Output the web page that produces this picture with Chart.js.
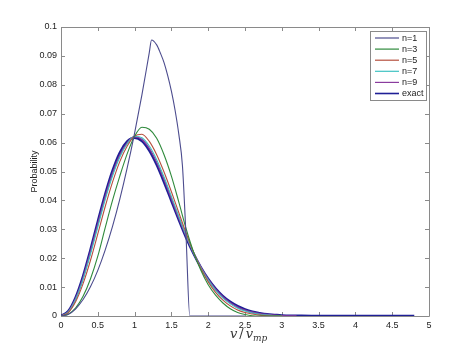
<!DOCTYPE html>
<html>
<head>
<meta charset="utf-8">
<script src="https://cdn.jsdelivr.net/npm/chart.js@4.4.1/dist/chart.umd.min.js"></script>
<style>
html,body{margin:0;padding:0;background:#fff;}
#wrap{width:474px;height:355px;position:relative;}
</style>
</head>
<body>
<div id="wrap"><canvas id="c" width="474" height="355"></canvas></div>
<script>
// ---- data ----
const xGrid = [0,0.1,0.2,0.3,0.4,0.5,0.6,0.7,0.8,0.9,1.0,1.1,1.2,1.3,1.4,1.5,1.6,1.7,1.8,1.9,2.0,2.1,2.2,2.3,2.4,2.5,2.6,2.7,2.8,2.9,3.0];

const n1X = [0,0.1,0.2,0.3,0.4,0.5,0.6,0.7,0.8,0.9,1.0,1.1,1.2,1.23,1.3,1.35,1.4,1.45,1.5,1.55,1.6,1.65,1.7,1.75,2.0,2.5];
const n1Y = [0,0.0006,0.0025,0.0057,0.0101,0.0158,0.0228,0.0310,0.0405,0.0513,0.0633,0.0766,0.0912,0.0955,0.0938,0.0910,0.0877,0.0832,0.0778,0.0712,0.0630,0.0520,0.0270,0,0,0];

const n3Y = [0,0.0006,0.0028,0.0068,0.0128,0.0207,0.0305,0.0400,0.0485,0.0562,0.0622,0.0653,0.0646,0.0615,0.0558,0.0484,0.0395,0.0302,0.0222,0.0158,0.0108,0.0072,0.0045,0.0025,0.0012,0.0005,0.0001,0,0,0,0];
const n5Y = [0,0.0012,0.0050,0.0112,0.0192,0.0284,0.0378,0.0463,0.0535,0.0588,0.0623,0.0629,0.0604,0.0558,0.0498,0.0430,0.0358,0.0287,0.0221,0.0164,0.0118,0.0082,0.0055,0.0035,0.0021,0.0012,0.0007,0.0003,0.0001,0,0];
const n7Y = [0,0.0014,0.0058,0.0127,0.0213,0.0308,0.0402,0.0484,0.0550,0.0596,0.0622,0.0617,0.0588,0.0541,0.0481,0.0414,0.0345,0.0279,0.0219,0.0167,0.0124,0.0089,0.0062,0.0042,0.0027,0.0017,0.0010,0.0006,0.0003,0.0001,0];
const n9Y = [0,0.0015,0.0061,0.0132,0.0222,0.0318,0.0412,0.0493,0.0557,0.0599,0.0620,0.0611,0.0580,0.0532,0.0472,0.0406,0.0339,0.0276,0.0219,0.0169,0.0127,0.0093,0.0066,0.0046,0.0031,0.0020,0.0013,0.0008,0.0005,0.0003,0.0001];
const exactY = [0,0.0017,0.0065,0.0138,0.0229,0.0327,0.0421,0.0503,0.0566,0.0604,0.0617,0.0605,0.0572,0.0523,0.0463,0.0398,0.0333,0.0271,0.0216,0.0168,0.0128,0.0095,0.0069,0.0049,0.0034,0.0023,0.0015,0.0010,0.0006,0.0004,0.0002];
const exactTailX = [3.2,3.5,4.0,4.5,4.8];
const exactTailY = [0.0001,0,0,0,0];
const n9TailX = [3.2];
const n9TailY = [0];

const seriesNames = ['n=1','n=3','n=5','n=7','n=9','exact'];
const seriesColors = ['#4c4c8e','#2f8a3c','#b5503e','#3fc2c2','#8a3c9e','#1f1f96'];
const seriesWidths = [1.1,1.1,1.1,1.1,1.4,2.4];

const xTicks = [0,0.5,1,1.5,2,2.5,3,3.5,4,4.5,5];
const yTicks = [0,0.01,0.02,0.03,0.04,0.05,0.06,0.07,0.08,0.09,0.1];

function pts(xs, ys){ return xs.map((x,i)=>({x:x, y:ys[i]})); }

const seriesData = [
  pts(n1X, n1Y),
  pts(xGrid, n3Y),
  pts(xGrid, n5Y),
  pts(xGrid, n7Y),
  pts(xGrid.concat(n9TailX), n9Y.concat(n9TailY)),
  pts(xGrid.concat(exactTailX), exactY.concat(exactTailY))
];

const FONT = '"Liberation Sans", Arial, sans-serif';

const framePlugin = {
  id: 'frame',
  beforeDatasetsDraw(chart){
    const {ctx, chartArea:a, scales} = chart;
    ctx.save();
    ctx.strokeStyle = '#8a8a8a';
    ctx.lineWidth = 1;
    ctx.beginPath();
    ctx.rect(Math.round(a.left)+0.5, Math.round(a.top)+0.5, Math.round(a.right-a.left), Math.round(a.bottom-a.top));
    ctx.stroke();
    const tl = 4;
    ctx.beginPath();
    xTicks.forEach(v=>{
      const px = Math.round(scales.x.getPixelForValue(v))+0.5;
      ctx.moveTo(px, a.bottom); ctx.lineTo(px, a.bottom-tl);
      ctx.moveTo(px, a.top); ctx.lineTo(px, a.top+tl);
    });
    yTicks.forEach(v=>{
      const py = Math.round(scales.y.getPixelForValue(v))+0.5;
      ctx.moveTo(a.left, py); ctx.lineTo(a.left+tl, py);
      ctx.moveTo(a.right, py); ctx.lineTo(a.right-tl, py);
    });
    ctx.stroke();
    ctx.restore();
  },
  afterDraw(chart){
    const {ctx, chartArea:a} = chart;
    ctx.save();
    // legend
    const lx = 370, ly = 31, lw = 56, lh = 69;
    ctx.fillStyle = '#fff';
    ctx.fillRect(lx, ly, lw, lh);
    ctx.strokeStyle = '#8a8a8a';
    ctx.lineWidth = 1;
    ctx.strokeRect(lx+0.5, ly+0.5, lw, lh);
    ctx.font = '9px ' + FONT;
    ctx.textBaseline = 'middle';
    ctx.textAlign = 'left';
    chart.data.datasets.forEach((ds,i)=>{
      const y = ly + 7 + i*11.1;
      ctx.strokeStyle = ds.borderColor;
      ctx.lineWidth = i===5 ? 1.6 : 1.2;
      ctx.beginPath(); ctx.moveTo(lx+5, y); ctx.lineTo(lx+29, y); ctx.stroke();
      ctx.fillStyle = '#222';
      ctx.fillText(ds.label, lx+32, y+0.5);
    });
    // y title
    ctx.save();
    ctx.translate(35, (a.top+a.bottom)/2);
    ctx.rotate(-Math.PI/2);
    ctx.textAlign = 'center';
    ctx.textBaseline = 'middle';
    ctx.fillStyle = '#222';
    ctx.font = '9px ' + FONT;
    ctx.fillText('Probability', 0, 0);
    ctx.restore();
    // x title  v / v_mp
    ctx.fillStyle = '#333';
    ctx.textBaseline = 'alphabetic';
    ctx.textAlign = 'left';
    const by = 338;
    let x = 230;
    ctx.font = 'italic 13px "DejaVu Serif", serif';
    ctx.fillText('v', x, by); x += ctx.measureText('v').width + 2;
    ctx.font = '13px "DejaVu Serif", serif';
    ctx.fillText('/', x, by); x += ctx.measureText('/').width + 2;
    ctx.font = 'italic 13px "DejaVu Serif", serif';
    ctx.fillText('v', x, by); x += ctx.measureText('v').width;
    ctx.font = 'italic 9px "DejaVu Serif", serif';
    ctx.fillText('mp', x, by+3);
    ctx.restore();
  }
};

new Chart(document.getElementById('c'), {
  type: 'line',
  data: {
    datasets: seriesData.map((d,i)=>({
      label: seriesNames[i],
      data: d,
      borderColor: seriesColors[i],
      backgroundColor: seriesColors[i],
      borderWidth: seriesWidths[i],
      pointRadius: 0,
      cubicInterpolationMode: 'monotone',
      fill: false
    }))
  },
  options: {
    responsive: false,
    animation: false,
    events: [],
    layout: { padding: { left: 0, top: 27, right: 45, bottom: 0 } },
    plugins: { legend: { display: false }, tooltip: { enabled: false } },
    scales: {
      x: {
        type: 'linear', min: 0, max: 5,
        afterBuildTicks(s){ s.ticks = xTicks.map(v=>({value:v})); },
        afterFit(s){ s.height = 39; },
        grid: { display: false, drawTicks: false },
        border: { display: false },
        ticks: {
          padding: 4,
          color: '#222',
          font: { size: 9, family: FONT },
          maxRotation: 0,
          autoSkip: false,
          callback: v => String(+(+v).toFixed(3))
        }
      },
      y: {
        type: 'linear', min: 0, max: 0.1,
        afterBuildTicks(s){ s.ticks = yTicks.map(v=>({value:v})); },
        afterFit(s){ s.width = 61; },
        grid: { display: false, drawTicks: false },
        border: { display: false },
        ticks: {
          padding: 4,
          color: '#222',
          font: { size: 9, family: FONT },
          autoSkip: false,
          callback: v => String(+(+v).toFixed(3))
        }
      }
    }
  },
  plugins: [framePlugin]
});
</script>
</body>
</html>
